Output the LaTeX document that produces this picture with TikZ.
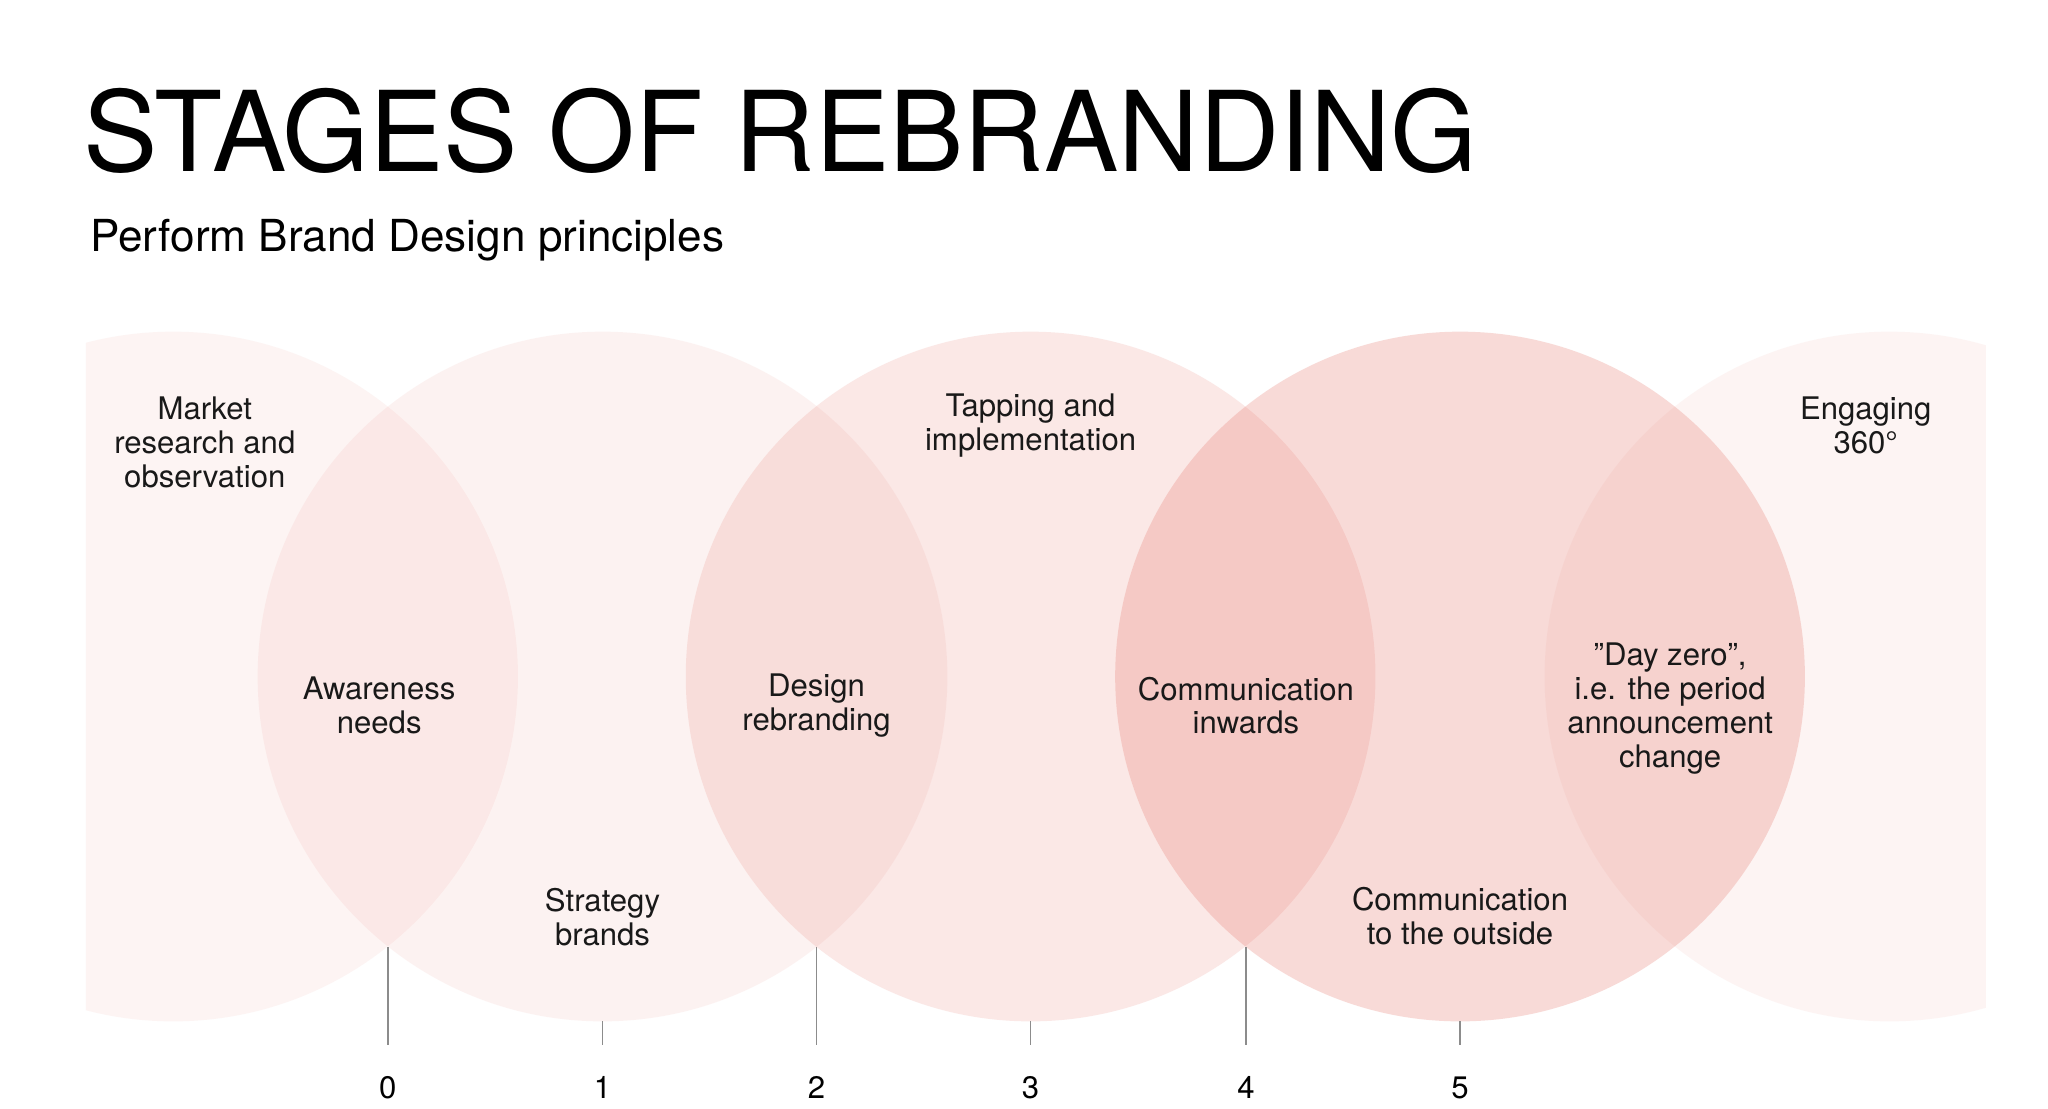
\documentclass[tikz,border=0pt]{standalone}
\usepackage{fontspec}
\setmainfont{TeX Gyre Heros}
\begin{document}
\begin{tikzpicture}[x=0.02cm,y=-0.02cm,
  circ/.style={fill=pinkc,fill opacity=#1,draw=none},
  lbl/.style={align=center,font=\fontsize{13.4}{14.6}\selectfont,text=black!90,inner sep=0pt},
  tick/.style={draw=black!45,line width=0.6pt},
  num/.style={font=\fontsize{13.4}{14.6}\selectfont,inner sep=0pt}]
\definecolor{pinkc}{HTML}{E8796E}
\useasboundingbox[fill=white] (0,0) rectangle (1550,839);
\node[anchor=base west,inner sep=0pt,font=\fontsize{48}{50}\selectfont] (title) at (63,130) {STAGES OF REBRANDING};
\node[anchor=base west,inner sep=0pt,font=\fontsize{19}{21}\selectfont] (sub) at (68,190) {Perform Brand Design principles};
\begin{scope}
\clip (65,0) rectangle (1503,839);
\fill[circ=0.08] (131,512) circle[radius=261];
\fill[circ=0.09] (456,512) circle[radius=261];
\fill[circ=0.17] (780,512) circle[radius=261];
\fill[circ=0.27] (1105,512) circle[radius=261];
\fill[circ=0.08] (1430,512) circle[radius=261];
\end{scope}
\foreach \x/\n in {293.5/0,618/2,943/4}{
  \coordinate (t\n a) at (\x,717); \coordinate (t\n b) at (\x,791);
  \draw[tick] (t\n a) -- (t\n b);}
\foreach \x/\n in {456/1,780/3,1105/5}{
  \coordinate (t\n a) at (\x,773); \coordinate (t\n b) at (\x,791);
  \draw[tick] (t\n a) -- (t\n b);}
\foreach \x/\n in {293.5/0,456/1,618/2,780/3,943/4,1105/5}
  \node[num] (n\n) at (\x,823) {\n};
\node[lbl] (l0) at (155,335) {Market\\research and\\observation};
\node[lbl] (l01) at (287,534) {Awareness\\needs};
\node[lbl] (l1) at (456,694) {Strategy\\brands};
\node[lbl] (l12) at (618,534) {Design\\rebranding};
\node[lbl] (l2) at (780,322) {Tapping and\\implementation};
\node[lbl] (l23) at (943,534) {Communication\\inwards};
\node[lbl] (l3) at (1105,693) {Communication\\to the outside};
\node[lbl] (l34) at (1264,536) {\symbol{34}Day zero\symbol{34},\\i.e. the period\\announcement\\change};
\node[lbl] (l4) at (1412,322) {Engaging\\360°};
\end{tikzpicture}
\end{document}
